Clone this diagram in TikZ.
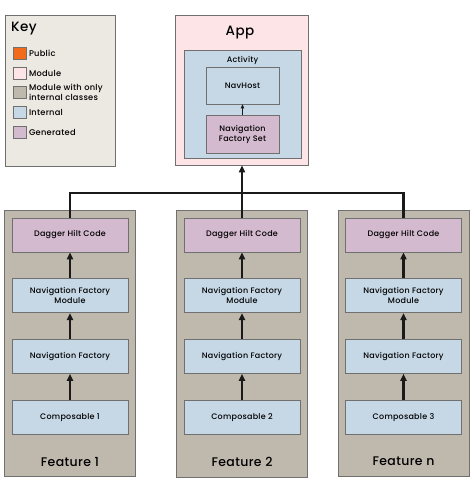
\documentclass[tikz,border=0pt]{standalone}
\usepackage{fontspec}
\setmainfont{Poppins}[LetterSpace=3, UprightFont=* Medium]
\usepackage{tikz}
\usetikzlibrary{shapes.geometric, arrows.meta}
\usetikzlibrary{positioning, fit, calc, backgrounds}

\definecolor{keybg}{HTML}{ECE8E2}
\definecolor{publicor}{HTML}{F26A1B}
\definecolor{modpink}{HTML}{FCE4E7}
\definecolor{featgray}{HTML}{BFB8AD}
\definecolor{internalblue}{HTML}{C6D8E6}
\definecolor{generatedmauve}{HTML}{D4BACF}
\definecolor{boxline}{HTML}{707070}
\definecolor{wire}{HTML}{1A1A1A}

\tikzstyle{module} = [rectangle, minimum width=116pt, minimum height=34pt, text centered, align=center, draw=boxline, line width=0.7pt, font=\fontsize{8}{10.5}\selectfont]

\begin{document}
\begin{tikzpicture}[x=1pt, y=-1pt, node distance=26pt]
        \tikzstyle{internal} = [module, fill=internalblue]
        \tikzstyle{generated} = [module, fill=generatedmauve]
        \tikzstyle{container} = [rectangle, draw=boxline, line width=0.7pt, fill=featgray, inner sep=7pt]
        \tikzstyle{title} = [font=\fontsize{12.5}{14}\selectfont]
        \tikzstyle{swatch} = [rectangle, draw=boxline, line width=0.6pt, minimum width=13pt, minimum height=12pt, inner sep=0pt]
        \tikzstyle{link} = [-{Triangle[length=7pt, width=6pt]}, line width=2.4pt, draw=wire]
        \tikzstyle{bus} = [line width=2.4pt, draw=wire]

        \useasboundingbox (0,0) rectangle (474,499);

        % key
        \node[rectangle, draw=boxline, line width=0.7pt, fill=keybg, minimum width=110pt, minimum height=151pt] (key) at (60,90.5) {};
        \node[anchor=west, font=\fontsize{13.5}{15}\selectfont, inner sep=0pt] (keyLabel) at (11,29) {Key};
        \foreach \col/\txt/\ypos [count=\i] in {publicor/Public/53, modpink/Module/73, featgray/{Module with only\\internal classes}/92.5, internalblue/Internal/112, generatedmauve/Generated/132} {
            \node[swatch, fill=\col] (swatch\i) at (19.5,\ypos) {};
            \node[right=2.5pt of swatch\i, inner sep=0pt, align=left, font=\fontsize{8.3}{10}\selectfont] (entry\i) {\txt};
        }

        % app
        \node[rectangle, draw=boxline, line width=0.7pt, fill=modpink, minimum width=133pt, minimum height=150pt] (app) at (241.5,90) {};
        \node[font=\fontsize{13.5}{15}\selectfont] (appLabel) at (240,33) {App};
        \node[internal, minimum width=117pt, minimum height=108pt] (activity) at (242.5,104) {};
        \node[font=\fontsize{8}{9}\selectfont] (activityLabel) at (242.5,60) {Activity};
        \node[internal, minimum width=73pt, minimum height=37pt] (navhost) at (242.5,85.5) {NavHost};
        \node[generated, minimum width=73pt, minimum height=38pt, below=11pt of navhost] (factorySet) {Navigation\\Factory Set};
        \draw[-{Triangle[length=4pt, width=3.5pt]}, line width=0.8pt, draw=wire] (factorySet) -- (navhost);

        % features
        \node[generated] (dagger1) at (70,235) {Dagger Hilt Code};
        \node[internal, below=of dagger1] (factoryModule1) {Navigation Factory\\Module};
        \node[internal, below=of factoryModule1] (factory1) {Navigation Factory};
        \node[internal, below=of factory1] (composable1) {Composable 1};
        \node[title, below=19pt of composable1] (featureLabel1) {Feature 1};

        \node[generated] (dagger2) at (242,235) {Dagger Hilt Code};
        \node[internal, below=of dagger2] (factoryModule2) {Navigation Factory\\Module};
        \node[internal, below=of factoryModule2] (factory2) {Navigation Factory};
        \node[internal, below=of factory2] (composable2) {Composable 2};
        \node[title, below=19pt of composable2] (featureLabel2) {Feature 2};

        \node[generated] (daggerN) at (403.5,235) {Dagger Hilt Code};
        \node[internal, below=of daggerN] (factoryModuleN) {Navigation Factory\\Module};
        \node[internal, below=of factoryModuleN] (factoryN) {Navigation Factory};
        \node[internal, below=of factoryN] (composableN) {Composable 3};
        \node[title, below=19pt of composableN] (featureLabelN) {Feature n};

        \begin{scope}[on background layer]
            \node[container, fit={(dagger1) (composable1) (featureLabel1)}] (feature1) {};
            \node[container, fit={(dagger2) (composable2) (featureLabel2)}] (feature2) {};
            \node[container, fit={(daggerN) (composableN) (featureLabelN)}] (featureN) {};
        \end{scope}

        \draw[link] (composable1) -- (factory1);
        \draw[link] (factory1) -- (factoryModule1);
        \draw[link] (factoryModule1) -- (dagger1);
        \draw[link] (composable2) -- (factory2);
        \draw[link] (factory2) -- (factoryModule2);
        \draw[link] (factoryModule2) -- (dagger2);
        \draw[link] (composableN) -- (factoryN);
        \draw[link] (factoryN) -- (factoryModuleN);
        \draw[link] (factoryModuleN) -- (daggerN);

        % wiring to app
        \coordinate (busLevel) at (0,193);
        \draw[bus] (dagger1.north) -- (dagger1.north |- busLevel) -- (daggerN.north |- busLevel) -- (daggerN.north);
        \draw[link] (dagger2.north) -- (dagger2.north |- app.south);

    \end{tikzpicture}
\end{document}
